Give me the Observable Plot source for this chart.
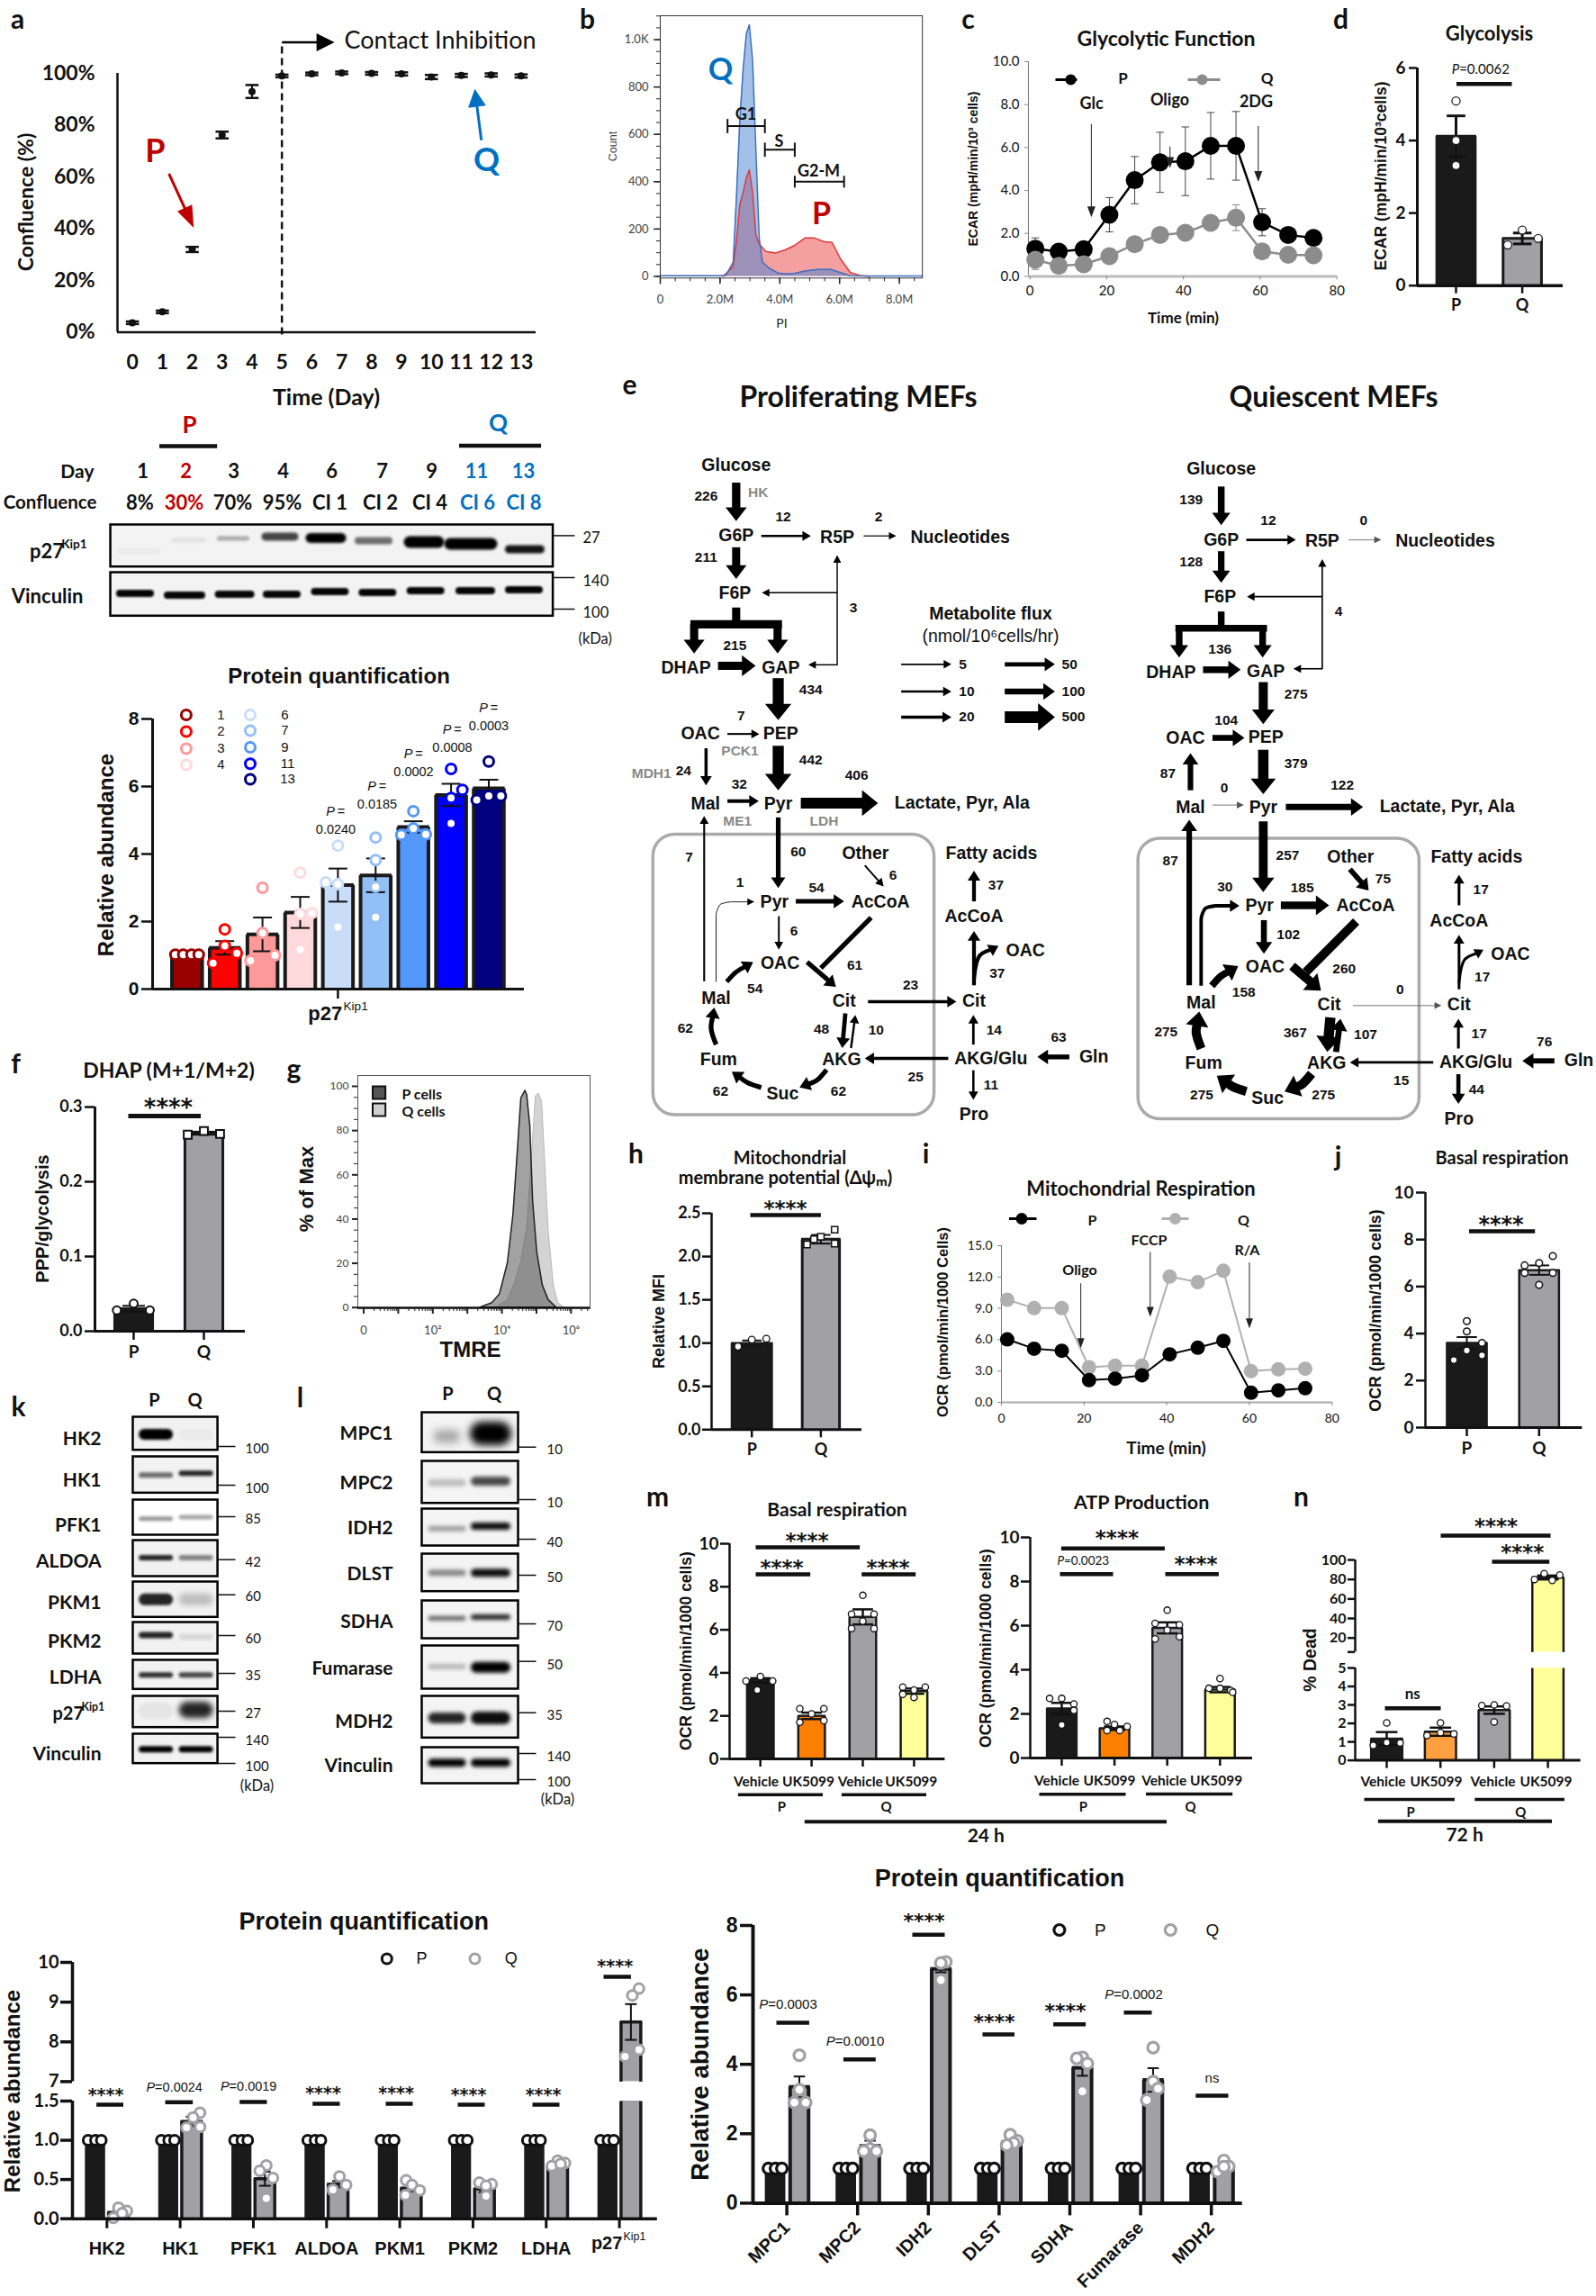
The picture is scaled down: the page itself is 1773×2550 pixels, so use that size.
<!doctype html>
<html><head><meta charset="utf-8">
<script src="https://cdn.jsdelivr.net/npm/d3@7"></script>
<script src="https://cdn.jsdelivr.net/npm/@observablehq/plot@0.6"></script>
<style>body{margin:0;background:#fff}#fig{position:relative;width:1773px;height:2550px;overflow:hidden;background:#fff}#fig svg{position:absolute}</style>
</head><body><div id="fig"></div>
<script>
/* ---------- DATA ---------- */
const confDays=[0,1,2,3,4,5,6,7,8,9,10,11,12,13];
const confValues=[3.7,7.9,32,76.2,93,99,99.8,100.2,100,99.8,98.6,99.2,99.4,99];
const confErrs=[.5,.5,1,1.3,2.5,.5,.5,.5,.5,.6,.8,.6,.6,.6];

const flowX_Q=[0,2,2.2,2.44,2.55,2.66,2.77,2.88,2.98,3.09,3.2,3.31,3.42,3.64,3.96,4.4,4.84,5.27,5.7,6.03,6.36,7,8.77];
const flowY_Q=[3,3,5,60,340,657,873,1025,1063,911,530,162,60,35,13,10,23,29,29,16,3,2,2];
const flowX_P=[2.1,2.44,2.55,2.66,2.77,2.88,2.98,3.09,3.2,3.31,3.53,3.86,4.18,4.5,4.84,5.16,5.49,5.75,6.03,6.36,6.69,7];
const flowY_P=[0,42,150,302,353,416,450,353,175,137,105,99,112,131,162,162,146,143,74,16,4,0];

const glycoT=[1.4,7.5,14,20.7,27.3,33.9,40.5,47.1,53.7,60.5,67.3,73.9];
const glycoP=[1.29,1.15,1.26,2.87,4.48,5.31,5.36,6.08,6.08,2.52,1.93,1.79];
const glycoPErr=[.5,.35,.3,.8,1.1,1.4,1.6,1.55,1.6,.63,.1,.1];
const glycoQ=[.77,.49,.56,.94,1.5,1.93,2.03,2.49,2.73,1.16,1,.98];
const glycoQErr=[.45,.3,.3,.2,.2,.2,.2,.2,.6,.2,.1,.1];

const dGly=[4.12,1.3],dGlyErr=[.56,.15];
const dGlyPts=[[[0,5.09],[0,4.0],[0,3.31]],[[0,1.53],[.24,1.3],[-.22,1.12]]];

const p27Days=["1","2","3","4","6","7","9","11","13"];
const p27Conf=["8%","30%","70%","95%","CI 1","CI 2","CI 4","CI 6","CI 8"];
const p27Bars=[1,1.22,1.62,2.27,3.08,3.37,4.8,5.75,5.95];
const p27Errs=[.03,.2,.5,.46,.49,.5,.17,.33,.25];
const p27Colors=["#990000","#FF0000","#FF9999","#FFD9DC","#C9DDF8","#93BFF7","#5398FA","#0000FF","#000080"];
const p27Pts=[[[-.31,1.02],[-.1,1.02],[.12,1.02],[.31,1.02]],[[0,1.77],[0,1.28],[.32,1.06],[-.31,.77]],[[0,3],[0,1.66],[.33,1],[-.32,.84]],[[0,3.45],[0,2.23],[.31,2.25],[0,1.17]],[[0,4.25],[-.32,3.16],[0,3.11],[0,1.84]],[[0,4.49],[0,3.82],[0,3.03],[0,2.13]],[[0,5.27],[0,4.76],[-.32,4.57],[.33,4.58]],[[0,6.52],[.3,5.9],[0,5.66],[0,4.91]],[[0,6.74],[0,5.72],[.32,5.72],[-.32,5.6]]];
const p27Blot=[.03,.07,.3,.72,1,.55,1,1,.92];
const p27P=["0.0240","0.0185","0.0002","0.0008","0.0003"];

const dhap=[.03,.265],dhapErr=[.004,.002];
const dhapPts=[[[0,.037],[-.24,.028],[.23,.028]],[[-.23,.263],[0,.268],[.23,.264]]];

const tmreX_P=[3.38,3.72,3.94,4.17,4.33,4.45,4.56,4.68,4.73,4.82,4.9,5.02,5.18,5.35,5.58];
const tmreY_P=[0,2,6,20,41.7,68.8,94.6,98,96,82,48.2,25,10,3.4,0];
const tmreX_Q=[3.83,4.17,4.39,4.56,4.73,4.87,4.98,5.07,5.16,5.24,5.35,5.5,5.63,5.8];
const tmreY_Q=[0,3.4,11.5,21,36,68.8,95.6,96.7,93,68.8,34.6,10,2,0];

const mfi=[1,2.2],mfiErr=[.03,.05];
const mfiPts=[[[-.2,.96],[0,1.04],[.21,1.05]],[[-.2,2.14],[0,2.23],[.2,2.31],[.2,2.15],[-.1,2.2]]];

const respT=[1.4,7.9,14.6,21.2,27.5,34,40.7,47.5,53.7,60.4,67,73.5];
const respP=[6.03,5.14,4.94,2.13,2.27,2.59,4.6,5.23,5.89,.92,1.15,1.35];
const respQ=[9.83,9.02,9.02,3.36,3.51,3.51,12.04,11.5,12.6,2.99,3.16,3.22];

const basal=[3.6,6.7],basalErr=[.25,.2];
const basalPts=[[[0,4.53],[0,4.09],[.21,3.6],[0,3.28],[.21,3.07],[-.18,2.87]],[[.19,7.3],[-.2,6.9],[0,7],[.19,6.58],[-.2,6.58],[0,6.07]]];

const ukLabels=["Vehicle","UK5099","Vehicle","UK5099"];
const ukColors=["#1a1a1a","#FF8000","#A0A0A5","#FFFF99"];
const mBasal=[3.65,2,6.6,3.15],mBasalErr=[.1,.15,.35,.12];
const mBasalPts=[[[0,3.83],[-.28,3.62],[.24,3.62],[-.06,3.2]],[[-.23,2.33],[.24,2.33],[0,2.09],[.24,1.78],[-.23,1.7]],[[0,7.6],[-.22,6.73],[.22,6.73],[-.22,6.06],[.22,6.06],[0,6.4]],[[-.22,3.34],[.22,3.34],[0,3.2],[-.22,3],[0,2.86]]];
const mAtp=[2.25,1.35,5.9,3.1],mAtpErr=[.25,.08,.25,.12];
const mAtpPts=[[[-.23,2.7],[0,2.7],[.23,2.45],[.23,2.16],[0,1.5]],[[-.14,1.66],[0,1.52],[.24,1.43],[-.14,1.25],[.1,1.25]],[[0,6.7],[-.23,6.1],[.23,6.04],[0,5.8],[-.23,5.4],[.23,5.5]],[[0,3.6],[-.21,3.16],[0,3.16],[.2,3.06],[.24,2.98]]];
const dead=[1.18,1.55,2.72,82],deadErr=[.35,.22,.2,2];
const deadColors=["#1a1a1a","#FFA040","#A0A0A5","#FFFF99"];
const deadPts=[[[0,2.03],[.25,.94],[0,.97],[-.25,.81]],[[0,2.03],[-.25,1.35],[.25,1.43],[0,1.5]],[[-.23,2.97],[0,3],[.23,2.94],[0,2.08]],[[-.25,80],[-.07,86],[.08,79],[.22,84.6]]];

const glyNames=["HK2","HK1","PFK1","ALDOA","PKM1","PKM2","LDHA","p27"];
const glyP=[1,1,1,1,1,1,1,1];
const glyQ=[.08,1.24,.51,.44,.39,.38,.68,8.5];
const glyQErr=[.03,.06,.09,.04,.04,.04,.02,.45];
const glyQPts=[[[0,.14],[.115,.1],[.05,.07],[-.07,.01]],[[.115,1.35],[.02,1.29],[-.07,1.16],[.115,1.17]],[[.02,.68],[-.07,.61],[.11,.52],[.02,.26]],[[.02,.54],[.11,.43],[-.07,.36],[-.07,.37]],[[-.07,.49],[.01,.43],[.115,.36],[-.08,.3]],[[-.07,.46],[.1,.44],[.02,.42],[.02,.29]],[[0,.74],[.1,.71],[-.08,.67],[.04,.7]],[[.11,9.34],[.02,9.17],[.11,7.8],[-.08,7.63]]];
const mitoNames=["MPC1","MPC2","IDH2","DLST","SDHA","Fumarase","MDH2"];
const mitoP=[1,1,1,1,1,1,1];
const mitoQ=[3.35,1.65,6.75,1.75,3.9,3.55,1];
const mitoQErr=[.3,.15,.1,.1,.23,.34,.08];
const mitoQPts=[[[0,4.26],[0,3.27],[-.07,2.9],[.09,2.9]],[[0,1.96],[0,1.56],[-.09,1.5],[.09,1.5]],[[.07,6.95],[0,6.92],[0,6.43]],[[-.02,1.97],[.08,1.8],[.03,1.73],[-.07,1.67]],[[0,4.2],[-.08,4.17],[.07,4.02],[0,3.22]],[[0,4.48],[0,3.5],[.07,3.3],[-.09,2.97]],[[0,1.23],[.07,1.06],[-.09,.91],[0,1.05]]];

const blotK=["HK2","HK1","PFK1","ALDOA","PKM1","PKM2","LDHA","p27","Vinculin"];
const blotKP=[1,.55,.4,.85,.85,.85,.8,.05,1];
const blotKQ=[.03,.85,.35,.45,.22,.1,.7,.85,1];
const kdaK=["100","100","85","42","60","60","35","27","140","100"];
const blotL=["MPC1","MPC2","IDH2","DLST","SDHA","Fumarase","MDH2","Vinculin"];
const blotLP=[.32,.22,.35,.45,.6,.25,.85,1];
const blotLQ=[1,.7,.95,.95,.85,1,.95,1];
const kdaL=["10","10","40","50","70","50","35","140","100"];

/* pathway: names, fluxes */
const pathNodes=[["Glucose",197,212],["G6P",197,355],["R5P",358,358],["Nucleotides",554,358],["F6P",195,470],["DHAP",117,623],["GAP",268,622],["OAC",140,756],["PEP",268,755],["Mal",148,897],["Pyr",264,897],["Lactate, Pyr, Ala",557,895],["Other",403,997],["Fatty acids",604,997],["Pyr",258,1096],["AcCoA",427,1096],["AcCoA",576,1126],["OAC",267,1220],["OAC",658,1194],["Mal",165,1292],["Cit",369,1296],["Cit",576,1296],["Fum",169,1415],["AKG",365,1415],["AKG/Glu",603,1413],["Gln",767,1410],["Suc",271,1485],["Pro",576,1527]];
const pathEnzymes=[["HK",232,268],["PCK1",203,791],["MDH1",62,836],["ME1",199,932],["LDH",337,932]];
const fluxLabelsP=[["226",149,274],["12",272,316],["2",424,316],["211",149,398],["3",384,500],["215",195,577],["434",316,667],["7",205,720],["442",316,808],["24",113,830],["32",202,858],["406",389,840],["60",296,994],["7",122,1005],["6",447,1042],["1",203,1057],["54",325,1067],["37",611,1063],["6",289,1156],["61",386,1224],["37",613,1240],["54",227,1271],["23",475,1265],["62",116,1352],["48",333,1354],["10",420,1356],["14",608,1355],["63",711,1371],["25",483,1450],["11",603,1467],["62",172,1479],["62",360,1479]];
const fluxLabelsQ=[["139",922,282],["12",1045,324],["0",1197,324],["128",922,407],["4",1157,508],["136",968,585],["275",1089,675],["104",978,729],["379",1089,816],["87",885,836],["0",975,866],["122",1163,860],["257",1076,1002],["87",889,1013],["75",1228,1050],["30",976,1065],["185",1099,1068],["17",1384,1071],["102",1077,1163],["260",1166,1232],["17",1386,1248],["158",1006,1279],["0",1255,1273],["275",882,1360],["367",1088,1361],["107",1200,1364],["17",1381,1363],["76",1485,1379],["15",1257,1458],["44",1377,1476],["275",939,1487],["275",1133,1487]];
const pathEdges=[
 {pts:[[197,247],[197,325]],p:226,q:139},
 {pts:[[237,355],[316,355]],p:12,q:12},
 {pts:[[400,355],[452,355]],p:2,q:0},
 {pts:[[197,378],[197,442]],p:211,q:128},
 {pts:[[358,617],[358,394]],p:3,q:4},
 {pts:[[358,470],[238,470]],p:3,q:4},
 {pts:[[358,616],[312,616]],p:3,q:4},
 {pts:[[197,500],[197,534]],p:215,q:136,noHead:1},
 {pts:[[124,534],[270,534]],p:215,q:136,noHead:1},
 {pts:[[130,534],[130,593]],p:215,q:136},
 {pts:[[263,534],[263,593]],p:215,q:136},
 {pts:[[168,618],[228,618]],p:215,q:136},
 {pts:[[264,643],[264,728]],p:434,q:275},
 {pts:[[183,756],[234,756]],p:7,q:104},
 {pts:[[264,780],[264,870]],p:442,q:379},
 {pts:[[149,785],[149,860]],p:24,q:null},
 {pts:[[148,862],[148,787]],p:null,q:87},
 {pts:[[183,892],[233,892]],p:32,q:0},
 {pts:[[300,896],[423,896]],p:406,q:122},
 {pts:[[264,925],[264,1068]],p:60,q:257},
 {pts:[[146,1257],[146,922]],p:7,q:87},
 {pts:[[165,1258],[165,1125],[171,1102],[188,1096],[226,1096]],p:1,q:30,curve:"monotone-y"},
 {pts:[[402,1022],[432,1065]],p:6,q:75},
 {pts:[[292,1095],[369,1095]],p:54,q:185},
 {pts:[[265,1125],[265,1193]],p:6,q:102},
 {pts:[[412,1128],[332,1230]],p:61,q:260,noHead:1},
 {pts:[[310,1218],[356,1268]],p:61,q:260},
 {pts:[[182,1258],[197,1238],[224,1218]],p:54,q:158,curve:"catmull-rom"},
 {pts:[[371,1322],[366,1392]],p:48,q:367},
 {pts:[[380,1392],[387,1325]],p:10,q:107},
 {pts:[[407,1298],[548,1298]],p:23,q:0},
 {pts:[[341,1436],[325,1458],[298,1472]],p:62,q:275,curve:"catmull-rom"},
 {pts:[[237,1472],[215,1462],[190,1440]],p:62,q:275,curve:"catmull-rom"},
 {pts:[[165,1385],[157,1352],[162,1310]],p:62,q:275,curve:"catmull-rom"},
 {pts:[[535,1413],[402,1413]],p:25,q:15},
 {pts:[[728,1410],[677,1410]],p:63,q:76},
 {pts:[[575,1437],[575,1497]],p:11,q:44},
 {pts:[[575,1385],[575,1325]],p:14,q:17},
 {pts:[[576,1265],[576,1155]],p:37,q:17},
 {pts:[[576,1252],[585,1205],[615,1185]],p:37,q:17,curve:"catmull-rom"},
 {pts:[[576,1095],[576,1033]],p:37,q:17}
];
const fluxLegendA=[5,10,20],fluxLegendB=[50,100,500];

/* ---------- HELPERS ---------- */
const fig=document.getElementById("fig");
const LATO="Lato, 'Open Sans', sans-serif", ARIAL="'Liberation Sans', Arial, sans-serif";
function place([l,r,t,b],xd,yd,marks,M=70){
  const w=r-l+2*M,h=b-t+2*M;
  const svg=Plot.plot({width:w,height:h,marginLeft:M,marginRight:M,marginTop:M,marginBottom:M,
    x:{domain:xd,axis:null},y:{domain:yd,axis:null},marks:marks.flat(Infinity).filter(Boolean),
    style:{background:"transparent",maxWidth:"none",overflow:"visible",height:h+"px",width:w+"px",position:"absolute",left:(l-M)+"px",top:(t-M)+"px"}});
  fig.appendChild(svg);return svg;
}
const tri={draw(c,l,r){c.moveTo(-r,0);c.lineTo(0,-l);c.lineTo(r,0);c.closePath();}};
function arrow(pts,{w=2,color="#000",noHead=false,sx=1,sy=1,curve="linear",hl,hw}={}){
  const n=pts.length,[x1,y1]=pts[n-2],[x2,y2]=pts[n-1];
  const dx=(x2-x1)*sx,dy=(y2-y1)*sy,len=Math.hypot(dx,dy);
  hl=hl??(w*.9+7);hw=hw??(w*.95+3);
  const k=noHead?0:Math.min(hl*.85,len*.9);
  const end=[x2-dx/len*k/sx,y2-dy/len*k/sy];
  const out=[Plot.line([...pts.slice(0,-1),end],{x:d=>d[0],y:d=>d[1],stroke:color,strokeWidth:w,curve,strokeLinecap:"butt"})];
  if(!noHead)out.push(Plot.vector([[x2,y2]],{x:d=>d[0],y:d=>d[1],rotate:Math.atan2(dx,-dy)*180/Math.PI,length:hl,anchor:"end",shape:tri,r:hw,fill:color,stroke:"none"}));
  return out;
}
function axY(ticks,{size=8,pad=3,fs=18,fw="bold",ff=LATO,fmt,sw=2.5,color="#111",textColor}={}){
  return Plot.axisY(ticks,{anchor:"left",label:null,tickSize:size,tickPadding:pad,tickFormat:fmt??(d=>d),fontSize:fs,fontWeight:fw,fontFamily:ff,strokeWidth:sw,stroke:color,fill:textColor??"#111"});
}
function axX(ticks,{size=8,pad=3,fs=18,fw="bold",ff=LATO,fmt,sw=2.5,color="#111",textColor,rot}={}){
  return Plot.axisX(ticks,{anchor:"bottom",label:null,tickSize:size,tickPadding:pad,tickFormat:fmt??(d=>d),fontSize:fs,fontWeight:fw,fontFamily:ff,strokeWidth:sw,stroke:color,fill:textColor??"#111",...(rot?{tickRotate:rot}:{})});
}
const minorY=(t,{size=4,sw=1,color="#222"}={})=>Plot.axisY(t,{anchor:"left",label:null,tickSize:size,strokeWidth:sw,stroke:color,text:null,tickFormat:null});
const minorX=(t,{size=4,sw=1,color="#222"}={})=>Plot.axisX(t,{anchor:"bottom",label:null,tickSize:size,strokeWidth:sw,stroke:color,text:null,tickFormat:null});
const vlink=(x,y1,y2,o)=>Plot.link([0],{x1:x,x2:x,y1,y2,...o});
const hlink=(x1,x2,y,o)=>Plot.link([0],{x1,x2,y1:y,y2:y,...o});
function barMarks(xs,vals,colors,errs,pts,yd,{bw,sw=3,line="#1a1a1a",cap=.1,errW=2,r=4.5,ptSW=1.5,ptStroke="#111",symbol="circle",ptFill="#fff"}){
  const out=[];
  vals.forEach((v,i)=>{
    const x=xs[i],x1=x-bw/2,x2=x+bw/2;
    if(v>yd[0]){
      const top=Math.min(v,yd[1]);
      out.push(Plot.rect([0],{x1,x2,y1:yd[0],y2:top,fill:colors[i]}));
      if(sw){out.push(vlink(x1,yd[0],top,{stroke:line,strokeWidth:sw}),vlink(x2,yd[0],top,{stroke:line,strokeWidth:sw}));
        if(v<=yd[1])out.push(hlink(x1-sw/200,x2+sw/200,top,{stroke:line,strokeWidth:sw}));}
      if(errs&&errs[i]>0&&v<=yd[1]&&v>=yd[0]){
        out.push(vlink(x,v-errs[i],v+errs[i],{stroke:"#111",strokeWidth:errW}),hlink(x-cap,x+cap,v+errs[i],{stroke:"#111",strokeWidth:errW}),hlink(x-cap,x+cap,v-errs[i],{stroke:"#111",strokeWidth:errW}));
      }
    }
    if(pts&&pts[i]){
      const st=Array.isArray(ptStroke)?ptStroke[i]:ptStroke;
      const p=pts[i].filter(d=>d[1]>=yd[0]&&d[1]<=yd[1]);
      out.push(Plot.dot(p,{x:d=>x+d[0],y:d=>d[1],r,fill:ptFill,stroke:st,strokeWidth:ptSW,symbol}));
    }
  });
  return out;
}
function xDom(l,r,c0,step){return [(l-c0)/step,(r-c0)/step];}
const labels=[],overLines=[],overDots=[];
function T(t,x,y,o={}){labels.push({t,x,y,o});}
function bar(x1,x2,y,sw=4,color="#111"){overLines.push({x1,x2,y,sw,color});}
function stars(x,y,fs){T("****",x,y+fs*.22,{fontFamily:"'DejaVu Sans'",fontWeight:"bold",fontSize:fs});}
const big={fontFamily:LATO,fontWeight:"bold"},ar={fontFamily:ARIAL,fontWeight:"bold"};
function pval(cx,y,val,fs=13,ff=LATO){
  const half=(val.length+1)*fs*.27;
  T("P",cx-half+1,y,{fontFamily:ff,fontStyle:"italic",fontSize:fs,textAnchor:"end"});
  T("="+val,cx-half+1,y,{fontFamily:ff,fontSize:fs,textAnchor:"start"});
}
function sup(rightOrCx,y,fs,ff,fw,anchor,base="p27",s="Kip1"){
  const bw=fs*(ff===ARIAL?1.78:1.6),sw=fs*.62*(ff===ARIAL?2.0:1.78);
  const x0=anchor==="end"?rightOrCx-bw-sw:rightOrCx-(bw+sw)/2;
  T(base,x0,y,{fontFamily:ff,fontWeight:fw,fontSize:fs,textAnchor:"start"});
  T(s,x0+bw,y-fs*.38,{fontFamily:ff,fontWeight:fw==="bold"&&ff===LATO?"bold":"normal",fontSize:fs*.62,textAnchor:"start"});
}
[["a",19,22],["b",652,22],["c",1075,22],["d",1489,22],["e",699,428],["f",17,1182],["g",326,1188],["h",706,1282],["i",1028,1282],["j",1486,1285],["k",20,1563],["l",333,1553],["m",730,1663],["n",1445,1663]]
 .forEach(([t,x,y])=>T(t,x,y,{...big,fontSize:30}));

/* ---------- PANEL a ---------- */
{
 const f=[130,595,80.7,368.3];
 const xd=[-.5,13.5],yd=[0,100];
 const sx=33.2,sy=-2.876;
 place(f,xd,yd,[
  Plot.ruleX([-.5],{strokeWidth:2.5,stroke:"#111"}),Plot.ruleY([0],{strokeWidth:2.5,stroke:"#111"}),
  axY([0,20,40,60,80,100],{size:0,pad:25,fs:23,fmt:d=>d+"%"}),
  axX(confDays,{size:0,pad:25,fs:23}),
  Plot.link(confDays,{x1:d=>d,x2:d=>d,y1:(d,i)=>confValues[i]-confErrs[i],y2:(d,i)=>confValues[i]+confErrs[i],stroke:"#111",strokeWidth:2}),
  Plot.link(confDays,{x1:d=>d-.22,x2:d=>d+.22,y1:(d,i)=>confValues[i]+confErrs[i],y2:(d,i)=>confValues[i]+confErrs[i],stroke:"#111",strokeWidth:2.5}),
  Plot.link(confDays,{x1:d=>d-.22,x2:d=>d+.22,y1:(d,i)=>confValues[i]-confErrs[i],y2:(d,i)=>confValues[i]-confErrs[i],stroke:"#111",strokeWidth:2.5}),
  Plot.dot(confDays,{x:d=>d,y:(d,i)=>confValues[i],r:4,fill:"#111"}),
  Plot.ruleX([5],{y1:-1,y2:112,stroke:"#111",strokeWidth:2.5,strokeDasharray:"8 5"}),
  arrow([[5,112],[6.76,112]],{w:2.5,sx,sy,hl:20,hw:10}),
  arrow([[1.22,61.3],[2.05,40.4]],{w:3,color:"#C00000",sx,sy,hl:24,hw:9}),
  arrow([[11.67,74.2],[11.45,94]],{w:3,color:"#0070C0",sx,sy,hl:20,hw:10})
 ]);
 T("Contact Inhibition",382,45,{fontFamily:LATO,fontSize:27,textAnchor:"start"});
 T("P",172,168,{...big,fontSize:36,fill:"#C00000"});
 T("Q",540,178,{...big,fontSize:36,fill:"#0070C0"});
 T("Confluence (%)",29,224,{...big,fontSize:23,rotate:-90});
 T("Time (Day)",362,441,{...big,fontSize:25});
}
/* ---------- PANEL b ---------- */
{
 const f=[732.5,1023.7,16.7,308],xd=[0,8.77],yd=[-7,1101];
 const q=flowX_Q.map((x,i)=>({x,y:flowY_Q[i]})),p=flowX_P.map((x,i)=>({x,y:flowY_P[i]}));
 const grey="#444";
 place(f,xd,yd,[
  Plot.areaY(p,{x:"x",y:"y",fill:"#F4A0A0"}),
  Plot.areaY(q,{x:"x",y:"y",fill:"#4682D2",fillOpacity:.5}),
  Plot.lineY(p,{x:"x",y:"y",stroke:"#E03A3A",strokeWidth:1.5}),
  Plot.lineY(q,{x:"x",y:"y",stroke:"#3F6FC0",strokeWidth:1.5}),
  Plot.frame({stroke:"#333",strokeWidth:1}),
  axY([0,200,400,600,800,1000],{size:7,pad:6,fs:13,fw:"normal",ff:LATO,sw:1.5,color:"#222",textColor:grey,fmt:d=>d===1000?"1.0K":d}),
  minorY(d3.range(0,1101,50)),
  axX([0,2,4,6,8],{size:7,pad:12,fs:13,fw:"normal",sw:1.5,color:"#222",textColor:grey,fmt:d=>d?d.toFixed(1)+"M":"0"}),
  minorX(d3.range(0,8.8,.5)),
  hlink(2.25,3.5,635,{stroke:"#111",strokeWidth:2}),vlink(2.25,605,665,{stroke:"#111",strokeWidth:2}),vlink(3.5,605,665,{stroke:"#111",strokeWidth:2}),
  hlink(3.5,4.5,535,{stroke:"#111",strokeWidth:2}),vlink(3.5,505,565,{stroke:"#111",strokeWidth:2}),vlink(4.5,505,565,{stroke:"#111",strokeWidth:2}),
  hlink(4.5,6.15,400,{stroke:"#111",strokeWidth:2}),vlink(4.5,375,425,{stroke:"#111",strokeWidth:2}),vlink(6.15,375,425,{stroke:"#111",strokeWidth:2})
 ]);
 T("G1",828,127,{...big,fontSize:18});T("S",865,157,{...big,fontSize:18});T("G2-M",909,190,{...big,fontSize:18});
 T("Q",800,78,{...big,fontSize:34,fill:"#0070C0"});T("P",912,238,{...big,fontSize:34,fill:"#C00000"});
 T("Count",680,162,{fontFamily:ARIAL,fontSize:12.5,fill:"#444",rotate:-90});
 T("PI",868,359,{fontFamily:LATO,fontSize:14,fill:"#222"});
}
/* ---------- PANEL c ---------- */
{
 const f=[1142,1484.7,68.3,306.7],xd=[-.4,80],yd=[0,10];
 const sx=4.26,sy=-23.84;
 const errs=(ys,es,col)=>[
  Plot.link(glycoT,{x1:d=>d,x2:d=>d,y1:(d,i)=>ys[i]-es[i],y2:(d,i)=>ys[i]+es[i],stroke:col,strokeWidth:1}),
  Plot.link(glycoT,{x1:d=>d-1,x2:d=>d+1,y1:(d,i)=>ys[i]+es[i],y2:(d,i)=>ys[i]+es[i],stroke:col,strokeWidth:1}),
  Plot.link(glycoT,{x1:d=>d-1,x2:d=>d+1,y1:(d,i)=>ys[i]-es[i],y2:(d,i)=>ys[i]-es[i],stroke:col,strokeWidth:1})];
 place(f,xd,yd,[
  Plot.ruleX([-.4],{stroke:"#777",strokeWidth:1}),Plot.ruleY([0],{stroke:"#bbb",strokeWidth:3}),
  axY([0,2,4,6,8,10],{size:4,pad:6,fs:15,fw:"normal",sw:1,color:"#888",fmt:d=>d.toFixed(1)}),
  axX([0,20,40,60,80],{size:4,pad:6,fs:15,fw:"normal",sw:1,color:"#888"}),
  errs(glycoP,glycoPErr,"#444"),errs(glycoQ,glycoQErr,"#888"),
  Plot.line(glycoT,{x:d=>d,y:(d,i)=>glycoP[i],stroke:"#000",strokeWidth:2.5}),
  Plot.dot(glycoT,{x:d=>d,y:(d,i)=>glycoP[i],r:10,fill:"#000"}),
  Plot.line(glycoT,{x:d=>d,y:(d,i)=>glycoQ[i],stroke:"#8c8c8c",strokeWidth:2.5}),
  Plot.dot(glycoT,{x:d=>d,y:(d,i)=>glycoQ[i],r:10,fill:"#8c8c8c"}),
  arrow([[16,7.1],[16,2.75]],{w:1,sx,sy,hl:12,hw:4.5,color:"#222"}),
  arrow([[36.5,6.05],[36.5,5.05]],{w:1,sx,sy,hl:12,hw:4.5,color:"#222"}),
  arrow([[59.5,7.0],[59.5,4.4]],{w:1,sx,sy,hl:12,hw:4.5,color:"#222"})
 ]);
 overLines.push({x1:1172,x2:1196,y:88,sw:3,color:"#000"},{x1:1319,x2:1355,y:88,sw:3,color:"#8c8c8c"});
 overDots.push({x:1189,y:88,r:6,fill:"#000"},{x:1335,y:88,r:6,fill:"#8c8c8c"});
 T("P",1247,87,{...big,fontSize:17});T("Q",1407,87,{...big,fontSize:17});
 T("Glc",1212,115,{...big,fontSize:18});T("Oligo",1299,111,{...big,fontSize:18});T("2DG",1395,113,{...big,fontSize:18});
 T("Glycolytic Function",1295,43,{...big,fontSize:23});
 T("ECAR (mpH/min/10³ cells)",1081,187,{...ar,fontSize:14,rotate:-90});
 T("Time (min)",1314,353,{...big,fontSize:17});
}
/* ---------- PANEL d ---------- */
{
 const f=[1574,1736,75,316.7],c0=1617,step=73.6;
 place(f,xDom(f[0],f[1],c0,step),[0,6],[
  barMarks([0,1],dGly,["#1a1a1a","#A0A0A5"],dGlyErr,dGlyPts,[0,6],{bw:.58,sw:3,cap:.14,errW:3,r:4.5,ptSW:1.3,ptStroke:"#222"}),
  Plot.ruleX([xDom(f[0],f[1],c0,step)[0]],{strokeWidth:3,stroke:"#111"}),Plot.ruleY([0],{strokeWidth:3.5,stroke:"#111"}),
  axY([0,2,4,6],{size:9,pad:4,fs:19}),
  axX([0,1],{size:9,pad:6,fs:18,fmt:i=>"PQ"[i]})
 ]);
 T("Glycolysis",1654,37,{...big,fontSize:22});
 pval(1648,77,"0.0062",15);bar(1617.5,1679,92.7,4.5);
 T("ECAR (mpH/min/10³cells)",1534,195,{...ar,fontSize:17.5,rotate:-90});
}
/* ---------- p27 western ---------- */
function blot(f,bands,{bg="#f3f3f3",sw=2.5}={}){
  return place(f,[f[0],f[1]],[f[3],f[2]],[
   Plot.frame({fill:bg,stroke:"none"}),
   bands.map(b=>Plot.rect([0],{x1:b.x-b.w/2,x2:b.x+b.w/2,y1:b.y-b.h/2,y2:b.y+b.h/2,rx:Math.min(b.h/2,b.w/2),fill:"#000",fillOpacity:b.op,imageFilter:`blur(${b.blur??1.8}px)`})),
   Plot.frame({stroke:"#000",strokeWidth:sw})
  ],15);
}
{
 const laneX=[154,210,259,311,362,415,471,523,583],laneY=[612.6,600,598,596,597.4,600.5,602,604,610],laneW=[48,39,36,41,45,42,45,59,44],laneH=[7,5,5,9,11,8,13,13,9];
 blot([122,613.6,582,628.7],p27Blot.map((op,i)=>({x:laneX[i],y:laneY[i],w:laneW[i],h:laneH[i],op})));
 const vinX=[150,205,260.6,313,366.4,419.3,472.7,528,582];
 blot([122,613.6,635,683.3],vinX.map((x,i)=>({x,y:[659,661,660,660,657,658,656,656,655][i],w:[42,46,44,42,42,42,42,44,42][i],h:8,op:.98,blur:1.2})));
 T("P",210,472,{...big,fontSize:26,fill:"#C00000"});T("Q",553,470,{...big,fontSize:26,fill:"#0070C0"});
 bar(176.5,240.7,495,4.5);bar(509.5,600.6,494.6,4.5);
 T("Day",104,523.7,{...big,fontSize:21,textAnchor:"end"});
 T("Confluence",107,558,{...big,fontSize:20.5,textAnchor:"end"});
 const dayX=[158,206,259,314,368,424,479,529,581],confX=[155,204,258,313,366,422,477,530,581.5];
 const col=i=>i===1?"#C00000":i>=7?"#0070C0":"#111";
 p27Days.forEach((d,i)=>T(d,dayX[i],523.7,{...big,fontSize:22,fill:col(i)}));
 p27Conf.forEach((d,i)=>T(d,confX[i],558,{...big,fontSize:22,fill:col(i)}));
 sup(92,612,22,LATO,"bold","end");
 T("Vinculin",92,662.5,{...big,fontSize:22,textAnchor:"end"});
 [[594.4,"27",597],[641,"140",645],[676,"100",680]].forEach(([y,t,ty])=>{bar(613.6,638,y,1.5);T(t,647,ty,{fontFamily:LATO,fontSize:16.5,textAnchor:"start"});});
 T("(kDa)",642,709,{fontFamily:LATO,fontSize:16.5,textAnchor:"start"});
}
/* ---------- p27 quantification ---------- */
{
 const f=[169,582,798,1098],c0=207.3,step=41.9,xd=xDom(169,582,c0,step);
 place(f,xd,[0,8],[
  barMarks(d3.range(9),p27Bars,p27Colors,p27Errs,p27Pts,[0,8],{bw:.8,sw:4,cap:.25,errW:2,r:5.5,ptSW:3,ptStroke:p27Colors}),
  Plot.ruleX([xd[0]],{strokeWidth:3,stroke:"#111"}),Plot.ruleY([0],{strokeWidth:3,stroke:"#111"}),
  axY([0,2,4,6,8],{size:12,pad:3,fs:21,ff:ARIAL}),
  axX([4],{size:11,pad:0,fmt:()=>""})
 ]);
 T("Protein quantification",376,751,{...ar,fontSize:24});
 T("Relative abundance",118,949,{...ar,fontSize:24,rotate:-90});
 sup(375,1125,22,ARIAL,"bold","mid");
 const lg1=[793.5,812,831,849],lg2=[793.5,811,829.5,847.7,865];
 ["1","2","3","4"].forEach((t,i)=>{overDots.push({x:206.4,y:lg1[i],r:5.5,fill:"#fff",stroke:p27Colors[i],sw:3});T(t,245,lg1[i],{fontFamily:ARIAL,fontSize:15});});
 ["6","7","9","11","13"].forEach((t,i)=>{overDots.push({x:277.5,y:lg2[i],r:5.5,fill:"#fff",stroke:p27Colors[i+4],sw:3});T(t,i>2?319:316,lg2[i],{fontFamily:ARIAL,fontSize:15});});
 const pPos=[[372.5,921],[418.5,893],[459,857],[502,830],[542.5,805.6]];
 p27P.forEach((v,i)=>{T(v,pPos[i][0],pPos[i][1],{fontFamily:ARIAL,fontSize:14.5});
  T("P",pPos[i][0]-6,pPos[i][1]-20,{fontFamily:ARIAL,fontStyle:"italic",fontSize:14.5});T("=",pPos[i][0]+6,pPos[i][1]-20,{fontFamily:ARIAL,fontSize:14.5});});
}
/* ---------- PANEL e pathway ---------- */
{
 const sx=1093/1568,sy=860/1568;
 const wf=f=>f===0?.8:.9*Math.pow(f,.43);
 const marks=[];
 const nf={fontFamily:ARIAL,fontWeight:"bold",fontSize:19.5};
 const num={fontFamily:ARIAL,fontWeight:"bold",fontSize:15.5};
 const put=(t,x,y,o)=>marks.push(Plot.text([0],{x,y,text:[t],lineAnchor:"middle",fill:"#111",...o}));
 [[0,0,"p"],[773,8,"q"]].forEach(([ox,oy,k])=>{
  marks.push(Plot.rect([0],{x1:65+ox,x2:513+ox,y1:960+oy,y2:1528+oy,rx:24,fill:"none",stroke:"#aaa",strokeWidth:3.5}));
  pathEdges.forEach(e=>{
   const f=e[k];if(f===null)return;
   marks.push(arrow(e.pts.map(([x,y])=>[x+ox,y+oy]),{w:wf(f),sx,sy,noHead:e.noHead,curve:e.curve||"linear",color:f===0?"#555":"#000"}));
  });
  pathNodes.forEach(([t,x,y])=>put(t,x+ox,y+oy,nf));
 });
 pathEnzymes.forEach(([t,x,y])=>put(t,x,y,{...num,fill:"#888"}));
 fluxLabelsP.concat(fluxLabelsQ).forEach(([t,x,y])=>put(t,x,y,num));
 fluxLegendA.forEach((f,i)=>{const y=[615,670,722][i];marks.push(arrow([[460,y],[540,y]],{w:wf(f),sx,sy}));put(String(f),552,y,{...num,textAnchor:"start"});});
 fluxLegendB.forEach((f,i)=>{const y=[615,670,722][i];marks.push(arrow([[625,y],[705,y]],{w:wf(f),sx,sy}));put(String(f),716,y,{...num,textAnchor:"start"});});
 place([680,1773,400,1260],[0,1568],[1568,0],marks,0);
 T("Proliferating MEFs",953,441,{...big,fontSize:32});
 T("Quiescent MEFs",1481,441,{...big,fontSize:32});
 T("Metabolite flux",1100,681,{...ar,fontSize:19.5});
 T("(nmol/10⁶cells/hr)",1100,706,{fontFamily:ARIAL,fontSize:19.5});
}
/* ---------- PANEL f ---------- */
{
 const f=[105,272,1229,1478],c0=148,step=78;
 const xd=xDom(105,272,c0,step);
 place(f,xd,[0,.3],[
  barMarks([0,1],dhap,["#1a1a1a","#A0A0A5"],dhapErr,null,[0,.3],{bw:.54,sw:3,cap:.16,errW:2}),
  Plot.dot(dhapPts[0],{x:d=>d[0],y:d=>d[1],r:4.5,fill:"#fff",stroke:"#111",strokeWidth:2}),
  Plot.dot(dhapPts[1],{x:d=>1+d[0],y:d=>d[1],r:5,symbol:"square",fill:"#fff",stroke:"#111",strokeWidth:2}),
  Plot.ruleX([xd[0]],{strokeWidth:3,stroke:"#111"}),Plot.ruleY([0],{strokeWidth:3,stroke:"#111"}),
  axY([0,.1,.2,.3],{size:11,pad:3,fs:18,fmt:d=>d.toFixed(1)}),
  axX([0,1],{size:10,pad:6,fs:19,fmt:i=>"PQ"[i]})
 ]);
 T("DHAP (M+1/M+2)",187,1189,{...big,fontSize:23});
 stars(186.5,1224,26);bar(142,222.5,1239,5);
 T("PPP/glycolysis",47,1353,{...ar,fontSize:20,rotate:-90});
}
/* ---------- PANEL g ---------- */
{
 const f=[397,655,1194,1453],xd=[-.17,6.55];
 const yd=[(1451.7-1453)/2.457,(1451.7-1194)/2.457];
 const p=tmreX_P.map((x,i)=>({x,y:tmreY_P[i]})),q=tmreX_Q.map((x,i)=>({x,y:tmreY_Q[i]}));
 const major=[0,1,2,3,4,5,6];
 place(f,xd,yd,[
  Plot.areaY(q,{x:"x",y:"y",fill:"#D4D4D4",stroke:"#b8b8b8",strokeWidth:1}),
  Plot.areaY(p,{x:"x",y:"y",fill:"#555",fillOpacity:.55,stroke:"#222",strokeWidth:1.5}),
  Plot.frame({stroke:"#555",strokeWidth:1}),
  Plot.ruleY([0],{stroke:"#111",strokeWidth:2}),
  axY([0,20,40,60,80,100],{size:6,pad:4,fs:12,fw:"normal",sw:2,color:"#222",textColor:"#444"}),
  minorY(d3.range(0,101,5)),
  axX(major,{size:6,pad:13,fs:13,fw:"normal",sw:2,color:"#222",textColor:"#444",fmt:d=>({0:"0",2:"10²",4:"10⁴",6:"10⁶"}[d]??"")}),
  minorX(major.flatMap(e=>[2,3,4,5,6,7,8,9].map(k=>e+Math.log10(k))).filter(v=>v>0&&v<6.5),{size:3})
 ]);
 overDots.push({x:420.6,y:1213,r:8,fill:"#555",stroke:"#111",sw:2,symbol:"square"},{x:420.6,y:1232,r:8,fill:"#d0d0d0",stroke:"#111",sw:2,symbol:"square"});
 T("P cells",446,1215,{...big,fontSize:16,textAnchor:"start"});T("Q cells",446,1234,{...big,fontSize:16,textAnchor:"start"});
 T("% of Max",340,1320,{...ar,fontSize:22,rotate:-90});T("TMRE",522,1499,{...ar,fontSize:24});
}
/* ---------- PANEL h ---------- */
{
 const f=[790,957,1346.7,1587],c0=834.7,step=76.7,xd=xDom(790,957,c0,step);
 place(f,xd,[0,2.5],[
  barMarks([0],[mfi[0]],["#1a1a1a"],[mfiErr[0]],[mfiPts[0]],[0,2.5],{bw:.58,sw:2.5,cap:.14,r:3.8,ptSW:1.3}),
  barMarks([1],[mfi[1]],["#A0A0A5"],[mfiErr[1]],[mfiPts[1]],[0,2.5],{bw:.54,sw:3,cap:.14,r:4,ptSW:1.5,symbol:"square"}),
  Plot.ruleX([xd[0]],{strokeWidth:2.5,stroke:"#111"}),Plot.ruleY([0],{strokeWidth:3,stroke:"#111"}),
  axY([0,.5,1,1.5,2,2.5],{size:10,pad:2,fs:18,fmt:d=>d.toFixed(1)}),
  axX([0,1],{size:9,pad:6,fs:18,fmt:i=>"PQ"[i]})
 ]);
 T("Mitochondrial",877,1286,{...big,fontSize:20});
 T("membrane potential (Δψₘ)",872,1308,{...big,fontSize:20});
 stars(872,1337,23);bar(833,911.4,1349,4.5);
 T("Relative MFI",732,1467,{...ar,fontSize:18,rotate:-90});
}
/* ---------- PANEL i ---------- */
{
 const f=[1111.5,1478.8,1383,1557],xd=[0,80],yd=[0,15];
 const sx=4.59,sy=-11.6;
 place(f,xd,yd,[
  Plot.ruleX([0],{stroke:"#777",strokeWidth:1}),Plot.ruleY([0],{stroke:"#aaa",strokeWidth:2}),
  axY([0,3,6,9,12,15],{size:4,pad:6,fs:14,fw:"normal",sw:1,color:"#888",fmt:d=>d.toFixed(1)}),
  axX([0,20,40,60,80],{size:4,pad:9,fs:14,fw:"normal",sw:1,color:"#888"}),
  Plot.line(respT,{x:d=>d,y:(d,i)=>respQ[i],stroke:"#b0b0b0",strokeWidth:2}),
  Plot.dot(respT,{x:d=>d,y:(d,i)=>respQ[i],r:8,fill:"#b0b0b0"}),
  Plot.link(respT,{x1:d=>d,x2:d=>d,y1:(d,i)=>respP[i]-.4,y2:(d,i)=>respP[i]+.4,stroke:"#444",strokeWidth:1}),
  Plot.line(respT,{x:d=>d,y:(d,i)=>respP[i],stroke:"#000",strokeWidth:2}),
  Plot.dot(respT,{x:d=>d,y:(d,i)=>respP[i],r:8,fill:"#000"}),
  arrow([[19.2,11.4],[19.2,5.2]],{w:1,sx,sy,hl:11,hw:4,color:"#222"}),
  arrow([[36,14.4],[36,8.2]],{w:1,sx,sy,hl:11,hw:4,color:"#222"}),
  arrow([[60,13.4],[60,7.1]],{w:1,sx,sy,hl:11,hw:4,color:"#222"})
 ]);
 overLines.push({x1:1120.5,x2:1151,y:1353,sw:3,color:"#000"},{x1:1290,x2:1320,y:1353,sw:3,color:"#b0b0b0"});
 overDots.push({x:1134.5,y:1353,r:6.5,fill:"#000"},{x:1305,y:1353,r:6.5,fill:"#b0b0b0"});
 T("P",1213,1355,{...big,fontSize:16});T("Q",1381,1355,{...big,fontSize:16});
 T("Oligo",1199,1410,{...big,fontSize:16});T("FCCP",1276,1377,{...big,fontSize:16});T("R/A",1385,1388,{...big,fontSize:16});
 T("Mitochondrial Respiration",1267,1320,{...big,fontSize:22});
 T("OCR (pmol/min/1000 Cells)",1047,1468,{...ar,fontSize:16.5,rotate:-90});
 T("Time (min)",1295,1608,{...big,fontSize:19});
}
/* ---------- PANEL j ---------- */
{
 const f=[1582.7,1757,1324,1585],c0=1628.7,step=80.3,xd=xDom(1582.7,1757,c0,step);
 place(f,xd,[0,10],[
  barMarks([0,1],basal,["#1a1a1a","#A0A0A5"],basalErr,basalPts,[0,10],{bw:.55,sw:2.5,cap:.14,r:3.8,ptSW:1.5}),
  Plot.ruleX([xd[0]],{strokeWidth:2.5,stroke:"#111"}),Plot.ruleY([0],{strokeWidth:3,stroke:"#111"}),
  axY([0,2,4,6,8,10],{size:10,pad:3,fs:19}),
  axX([0,1],{size:10,pad:6,fs:19,fmt:i=>"PQ"[i]})
 ]);
 T("Basal respiration",1668,1286,{...big,fontSize:20});
 stars(1667,1355,24);bar(1631.5,1704.7,1367,4.5);
 T("OCR (pmol/min/1000 cells)",1528,1455,{...ar,fontSize:17.8,rotate:-90});
}
/* ---------- PANELS k, l ---------- */
{
 const rowsK=[[1573.3,1610,1598],[1616.7,1657,1644],[1665,1704,1694],[1710,1750,1734],[1755.7,1795,1780],[1801,1836,1822.7],[1842.7,1875,1862.7],[1883,1917.7,1905],[1925,1957.7,1948]];
 const yKP=[1593.3,1638,1686.7,1730,1776,1816,1860,1900,1942.7],yKQ=[1593.3,1636,1685,1730,1776,1818,1860,1899,1942.7],hK=[12,6,5,6,13,7,6,18,7];
 blotK.forEach((n,i)=>{
  const [t,b,ly]=rowsK[i];
  blot([147.4,241.5,t,b],[{x:173.5,y:yKP[i],w:38,h:hK[i],op:blotKP[i]},{x:218,y:yKQ[i],w:38,h:hK[i],op:blotKQ[i],blur:i===4||i===7?3:1.8}],{bg:i===2?"#fff":"#f2f2f2"});
  if(i===7)sup(112,ly-2,20,LATO,"bold","end");else T(n,112,ly,{...big,fontSize:21,textAnchor:"end"});
 });
 [[1606,1609],[1649,1653],[1684,1687],[1731.7,1735],[1770.7,1773],[1816,1820],[1858,1861],[1900,1903],[1929,1933],[1958,1962]].forEach(([y,ty],i)=>{bar(241.5,261,y,1.5);T(kdaK[i],272,ty,{fontFamily:LATO,fontSize:15,textAnchor:"start"});});
 T("(kDa)",285,1983,{fontFamily:LATO,fontSize:16.5});
 T("P",171,1555,{...big,fontSize:20});T("Q",216,1555,{...big,fontSize:20});
 const rowsL=[[1567.7,1612,1592],[1622,1668.7,1647],[1675,1716,1697],[1725,1766.7,1748],[1776.7,1818.7,1800.7],[1827,1875,1853],[1882.7,1929,1911.7],[1940,1980,1960.7]];
 const yLP=[1595,1646.7,1697.7,1746.7,1797,1851,1907.7,1957.7],yLQ=[1591.7,1645,1695,1746.7,1795.7,1851.7,1907.7,1957.7],hL=[14,8,6,7,5,6,12,9],hLQ=[26,10,8,9,6,12,14,9];
 blotL.forEach((n,i)=>{
  const [t,b,ly]=rowsL[i];
  blot([468,575,t,b],[{x:496.5,y:yLP[i],w:i===0?30:42,h:hL[i],op:blotLP[i],blur:i===0?5:2},{x:545,y:yLQ[i],w:i===0?46:44,h:hLQ[i],op:blotLQ[i],blur:i===0?4:2}],{bg:"#f4f4f4"});
  T(n,436,ly,{...big,fontSize:21,textAnchor:"end"});
 });
 [[1606.7,1610],[1665,1669],[1709,1712.7],[1749,1752],[1803,1806],[1844.7,1848.7],[1901.7,1905],[1947,1950.7],[1976,1979]].forEach(([y,ty],i)=>{bar(575,595,y,1.5);T(kdaL[i],607,ty,{fontFamily:LATO,fontSize:15,textAnchor:"start"});});
 T("(kDa)",619,1998,{fontFamily:LATO,fontSize:16.5});
 T("P",497,1548,{...big,fontSize:20});T("Q",548.6,1548,{...big,fontSize:20});
}
/* ---------- PANEL m ---------- */
function vehicleChart(f,c0,step,vals,errs,pts,colors,bw){
  const xd=xDom(f[0],f[1],c0,step);
  return place(f,xd,[0,10],[
   barMarks([0,1,2,3],vals,colors,errs,pts,[0,10],{bw,sw:2.5,cap:.2,errW:2.5,r:3.6,ptSW:1.3}),
   Plot.ruleX([xd[0]],{strokeWidth:2.5,stroke:"#111"}),Plot.ruleY([0],{strokeWidth:3,stroke:"#111"}),
   axY([0,2,4,6,8,10],{size:10,pad:2,fs:19}),
   axX([0,1,2,3],{size:9,pad:0,fmt:()=>""})
  ]);
}
{
 vehicleChart([809.6,1049,1714,1953],843.8,56.9,mBasal,mBasalErr,mBasalPts,ukColors,.52);
 vehicleChart([1144,1391,1707,1952],1179,58.6,mAtp,mAtpErr,mAtpPts,ukColors,.56);
 T("Basal respiration",929.5,1677,{...big,fontSize:21});T("ATP Production",1267.6,1669,{...big,fontSize:21.5});
 T("OCR (pmol/min/1000 cells)",761.6,1833,{...ar,fontSize:17.5,rotate:-90});
 T("OCR (pmol/min/1000 cells)",1094.8,1830,{...ar,fontSize:17.5,rotate:-90});
 stars(896,1706,23);bar(839,954.6,1718,4.5);
 stars(868,1736,23);bar(839,899.6,1748,4.5);
 stars(986,1736,23);bar(956.7,1016.7,1748,4.5);
 stars(1240.4,1703,23);bar(1178.4,1293.4,1719.3,4.5);
 pval(1206,1732.7,"0.0023",13.5);bar(1177,1236,1747.7,4.5);
 stars(1328,1732,23);bar(1294,1353.4,1747.7,4.5);
 [839.6,897.5,955.3,1011.8].forEach((x,i)=>T(ukLabels[i],x,1979,{...big,fontSize:15.5}));
 [1173.5,1232,1292.7,1350.6].forEach((x,i)=>T(ukLabels[i],x,1977.7,{...big,fontSize:15.5}));
 bar(819.4,913.5,1992.7,3.5);bar(934.4,1028.5,1992.7,3.5);bar(1154,1250,1992.3,3.5);bar(1272.5,1368.7,1992,3.5);
 T("P",868,2007,{...big,fontSize:15});T("Q",984,2007,{...big,fontSize:15});T("P",1202.8,2007,{...big,fontSize:15});T("Q",1322,2007,{...big,fontSize:15});
 bar(893.3,1295.5,2022.7,4);T("24 h",1094.8,2039,{...big,fontSize:21});
}
/* ---------- PANEL n ---------- */
{
 const c0=1540,step=59.7,l=1505,r=1755.6,xd=xDom(l,r,c0,step);
 const optsB={bw:.58,sw:2.5,cap:.2,errW:2.5,r:3.6,ptSW:1.3};
 place([l,r,1851.7,1954.3],xd,[0,5],[
  barMarks([0,1,2,3],dead,deadColors,deadErr,deadPts,[0,5],optsB),
  Plot.ruleX([xd[0]],{strokeWidth:2.5,stroke:"#111"}),Plot.ruleY([0],{strokeWidth:3,stroke:"#111"}),
  axY([0,1,2,3,4,5],{size:8,pad:2,fs:16}),
  axX([0,1,2,3],{size:9,pad:0,fmt:()=>""})
 ]);
 place([l,r,1731.7,1834],xd,[5.6,100],[
  barMarks([0,1,2,3],dead,deadColors,deadErr,deadPts,[5.6,100],optsB),
  Plot.ruleX([xd[0]],{strokeWidth:2.5,stroke:"#111"}),
  axY([5.6,20,40,60,80,100],{size:8,pad:2,fs:16,fmt:d=>d===5.6?"":d})
 ]);
 T("% Dead",1455,1843,{...ar,fontSize:19.5,rotate:-90});
 stars(1661.5,1690,23);bar(1600,1722,1705,4.5);
 stars(1690.7,1719,23);bar(1657,1720.7,1734,4.5);
 T("ns",1568.7,1881,{...big,fontSize:17});bar(1538,1600,1896.7,4.5);
 [1536,1595,1658,1717].forEach((x,i)=>T(ukLabels[i],x,1979,{...big,fontSize:15.5}));
 bar(1515,1615.4,1998,3.5);bar(1637.8,1737.4,1998,3.5);
 T("P",1566.7,2013,{...big,fontSize:15});T("Q",1688.7,2013,{...big,fontSize:15});
 bar(1530.4,1723.5,2022.3,4);T("72 h",1626.6,2038,{...big,fontSize:21});
}
/* ---------- Protein quantification, glycolysis ---------- */
{
 const c0=117.9,step=81.33,l=79.6,r=729.4,xd=xDom(l,r,c0,step);
 const idx=d3.range(8),xP=idx.map(i=>i-.157),xQ=idx.map(i=>i+.157);
 const pPts=idx.map(()=>[[-.1,1],[0,1],[.08,1]]);
 const oP={bw:.27,sw:0,r:5.5,ptSW:3,ptStroke:"#111"};
 const oQ={bw:.27,sw:3.5,cap:.08,errW:2,r:5.5,ptSW:3,ptStroke:"#A0A0A5"};
 place([l,r,2333.3,2464],xd,[0,1.5],[
  barMarks(xP,glyP,glyP.map(()=>"#1a1a1a"),null,null,[0,1.5],oP),
  barMarks(xQ,glyQ,glyQ.map(()=>"#A0A0A5"),glyQErr,null,[0,1.5],oQ),
  barMarks(xP,glyP,glyP.map(()=>"#1a1a1a"),null,pPts,[0,1.5],oP),
  barMarks(xQ,glyQ.map(()=>-1),glyQ.map(()=>"#000"),null,glyQPts,[0,1.5],oQ),
  Plot.ruleX([xd[0]],{strokeWidth:3.5,stroke:"#111"}),Plot.ruleY([0],{strokeWidth:3.5,stroke:"#111"}),
  axY([0,.5,1,1.5],{size:13,pad:2,fs:20,fmt:d=>d.toFixed(1),sw:3.5}),
  axX(idx,{size:11,pad:15,fs:20,ff:ARIAL,sw:3,fmt:i=>i<7?glyNames[i]:""})
 ]);
 place([l,r,2179.3,2311.7],xd,[7,10],[
  barMarks(xQ,glyQ,glyQ.map(()=>"#A0A0A5"),glyQErr,glyQPts,[7,10],oQ),
  Plot.ruleX([xd[0]],{strokeWidth:3.5,stroke:"#111"}),
  axY([7,8,9,10],{size:13,pad:2,fs:20,sw:3.5})
 ]);
 sup(686.6,2491,20,ARIAL,"bold","mid");
 T("Protein quantification",403.7,2134,{...ar,fontSize:27});
 T("Relative abundance",14,2322,{...ar,fontSize:24,rotate:-90});
 overDots.push({x:429.3,y:2175,r:5.5,fill:"#fff",stroke:"#111",sw:3},{x:527,y:2175,r:5.5,fill:"#fff",stroke:"#A0A0A5",sw:3});
 T("P",468,2175,{fontFamily:ARIAL,fontSize:18});T("Q",567.3,2175,{fontFamily:ARIAL,fontSize:18});
 const sig=[["****",117,2322,106.6,136.5,2337],[null,198,2318,183,213.7,2334.3,"0.0024"],[null,280.5,2317,265.7,296,2334,"0.0019"],["****",358.5,2320,346.8,377,2336],["****",439.6,2320,428,458,2336],["****",520,2322,508,538,2337],["****",603,2322,591,621,2337],["****",682.7,2179,670,700.4,2195]];
 sig.forEach(([s,x,y,a,b,by,p])=>{if(s)stars(x,y,19);else pval(x,y,p,14.5,ARIAL);bar(a,b,by,4.5);});
}
/* ---------- Protein quantification, mitochondria ---------- */
{
 const c0=873.9,step=78.6,l=836.3,r=1380,xd=xDom(l,r,c0,step);
 const idx=d3.range(7),xP=idx.map(i=>i-.16),xQ=idx.map(i=>i+.177);
 const pPts=idx.map(()=>[[-.1,1],[0,1],[.09,1]]);
 place([l,r,2138.3,2446.7],xd,[0,8],[
  barMarks(xP,mitoP,mitoP.map(()=>"#1a1a1a"),null,pPts,[0,8],{bw:.29,sw:0,r:6,ptSW:3.2,ptStroke:"#111"}),
  barMarks(xQ,mitoQ,mitoQ.map(()=>"#A0A0A5"),mitoQErr,mitoQPts,[0,8],{bw:.26,sw:4,cap:.08,errW:2,r:6,ptSW:3.2,ptStroke:"#A0A0A5"}),
  Plot.ruleX([xd[0]],{strokeWidth:4,stroke:"#111"}),Plot.ruleY([0],{strokeWidth:4,stroke:"#111"}),
  axY([0,2,4,6,8],{size:14,pad:3,fs:23,ff:ARIAL,sw:3.5}),
  axX(idx,{size:14,pad:10,fs:20,ff:ARIAL,sw:3.5,rot:-45,fmt:i=>mitoNames[i]})
 ]);
 T("Protein quantification",1110,2086,{...ar,fontSize:27});
 T("Relative abundance",778,2292,{...ar,fontSize:27.5,rotate:-90});
 overDots.push({x:1176.4,y:2143,r:6,fill:"#fff",stroke:"#111",sw:3.2},{x:1299.8,y:2143,r:6,fill:"#fff",stroke:"#A0A0A5",sw:3.2});
 T("P",1221.8,2143,{fontFamily:ARIAL,fontSize:19});T("Q",1346.4,2143,{fontFamily:ARIAL,fontSize:19});
 const sig=[[null,880,2226,862,898.4,2246,"0.0003"],[null,954.5,2267,936.4,972.3,2286.7,"0.0010"],["****",1026,2129,1013,1049,2148.3],["****",1104,2241,1091,1126.5,2259],["****",1183,2229,1169.6,1205.6,2247.7],[null,1264,2215,1248,1279,2234.7,"0.0002"],["ns",1346,2308,1327.8,1364,2327]];
 sig.forEach(([s,x,y,a,b,by,p])=>{if(s==="ns")T(s,x,y,{fontFamily:ARIAL,fontSize:15});else if(s)stars(x,y,22);else pval(x,y,p,15,ARIAL);bar(a,b,by,4.5);});
}
/* ---------- overlay of annotations ---------- */
place([0,1773,0,2550],[0,1773],[2550,0],[
 overLines.map(d=>Plot.link([d],{x1:"x1",x2:"x2",y1:"y",y2:"y",stroke:d.color,strokeWidth:d.sw,strokeLinecap:"butt"})),
 overDots.map(d=>Plot.dot([d],{x:"x",y:"y",r:d.r,fill:d.fill,stroke:d.stroke||"none",strokeWidth:d.sw||0,symbol:d.symbol||"circle"})),
 labels.map(d=>Plot.text([d],{x:"x",y:"y",text:"t",lineAnchor:"middle",fill:"#111",fontSize:14,...d.o}))
],0);
</script></body></html>
